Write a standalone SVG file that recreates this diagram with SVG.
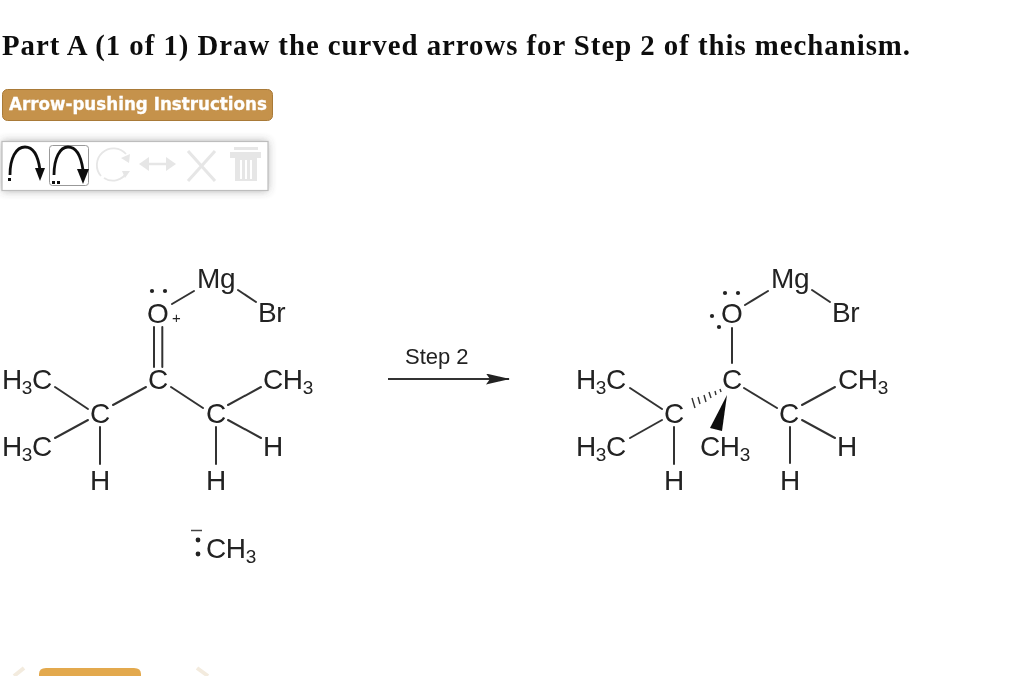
<svg xmlns="http://www.w3.org/2000/svg" width="1024" height="676" viewBox="0 0 1024 676">
<defs>
<filter id="sh" x="-10%" y="-40%" width="120%" height="180%"><feGaussianBlur stdDeviation="4"/></filter>
<filter id="soft" x="0" y="0" width="100%" height="100%" filterUnits="userSpaceOnUse" primitiveUnits="userSpaceOnUse"><feGaussianBlur stdDeviation="0.45"/></filter>
<marker id="ah" viewBox="0 0 24 11" refX="23" refY="5.500" markerWidth="24" markerHeight="11" markerUnits="userSpaceOnUse" orient="auto"><path d="M0 0L24 5.500L0 11L4 5.500Z" fill="#222"/></marker>
</defs>
<style>
text{font-family:"Liberation Sans",Arial,sans-serif;fill:#222}
.a{font-size:28px;letter-spacing:-.4px}
.s{font-size:19px}
.b{stroke:#333;stroke-width:2;fill:none;stroke-linecap:round}
.d{fill:#222}
.g{stroke:#e6e6e6;fill:none}
.k{stroke:#111;fill:none;stroke-width:2.800}
</style>
<rect width="1024" height="676" fill="#fff"/>
<g filter="url(#soft)">
<text x="2" y="55" style="font-family:'Liberation Serif','Times New Roman',serif;font-weight:700;font-size:28.800px;fill:#111" textLength="908" lengthAdjust="spacing">Part A (1 of 1) Draw the curved arrows for Step 2 of this mechanism.</text>

<g id="instructions-button">
<rect x="2.500" y="89.500" width="270" height="31" rx="5" fill="#c5924c" stroke="#a97a38"/>
<text x="9" y="110" style="font-family:'DejaVu Sans',sans-serif;font-weight:700;font-size:17px;fill:#fff;stroke:#fff;stroke-width:.3" textLength="258" lengthAdjust="spacingAndGlyphs">Arrow-pushing Instructions</text>
</g>

<g id="toolbar">
<rect x="2" y="141" width="266" height="50" fill="#555" opacity=".45" filter="url(#sh)"/>
<rect x="2" y="141.500" width="266" height="49" fill="#fff" stroke="#bdbdbd" stroke-width="1.200"/>
<g id="tool-single-arrow">
<path class="k" d="M10 175C10 158 16 147 25 147C33 147 38 155 40 170"/>
<path d="M35 168L45 168L40 181Z" fill="#111"/>
<rect x="8" y="178" width="3" height="3" fill="#111"/>
</g>
<g id="tool-double-arrow">
<rect x="49.500" y="145.500" width="39" height="40" rx="3" fill="#fff" stroke="#999" stroke-width="1"/>
<path class="k" d="M54 175C54 158 60 147 68 147C77 147 81 156 83 170"/>
<path d="M77 169L89 169L83 184Z" fill="#111"/>
<rect x="52" y="181" width="3" height="3" fill="#111"/><rect x="57" y="181" width="3" height="3" fill="#111"/>
</g>
<g id="tool-cycle">
<path class="g" stroke-width="1.800" d="M126 154A16 16 0 0 0 101 176"/>
<path class="g" stroke-width="1.800" d="M104 178A16 16 0 0 0 127 172"/>
<path d="M121 158L130 154L129 163Z M122 171L130 171L125 178Z" fill="#e6e6e6"/>
</g>
<g id="tool-resonance">
<path class="g" stroke-width="2.500" d="M145 164H170"/>
<path d="M139 164L149 157V171Z M176 164L166 157V171Z" fill="#e6e6e6"/>
</g>
<g id="tool-delete-x">
<path class="g" stroke-width="3" d="M188 151L215 181M215 151L188 181"/>
</g>
<g id="tool-trash">
<path d="M234 147H258V150H234ZM230 152H261V158H230ZM235 158H257V181H235Z" fill="#e6e6e6"/>
<path d="M241 160V179M246 160V179M251 160V179" stroke="#fff" stroke-width="2"/>
</g>
</g>

<g id="connectors">
<g id="reactant-bonds">
<line class="b" x1="172" y1="304" x2="194" y2="291"/>
<line class="b" x1="238" y1="290" x2="256" y2="302"/>
<line class="b" x1="154" y1="327" x2="154" y2="367"/>
<line class="b" x1="162.300" y1="327" x2="162.300" y2="367"/>
<line class="b" x1="55" y1="387" x2="88" y2="409"/>
<line class="b" x1="55" y1="438" x2="88" y2="420"/>
<line class="b" x1="100" y1="427" x2="100" y2="464"/>
<line class="b" x1="113" y1="405" x2="146" y2="387"/>
<line class="b" x1="171" y1="387" x2="203" y2="408"/>
<line class="b" x1="228" y1="405" x2="261" y2="387"/>
<line class="b" x1="228" y1="420" x2="261" y2="438"/>
<line class="b" x1="216" y1="427" x2="216" y2="464"/>
</g>
<g id="step-arrow">
<line x1="388" y1="379" x2="509" y2="379" stroke="#333" stroke-width="1.800" marker-end="url(#ah)"/>
</g>
<g id="product-bonds">
<line class="b" x1="745" y1="305" x2="768" y2="291"/>
<line class="b" x1="812" y1="290" x2="830" y2="302"/>
<line class="b" x1="732" y1="328" x2="732" y2="363"/>
<line class="b" x1="630" y1="388" x2="662" y2="409"/>
<line class="b" x1="630" y1="438" x2="662" y2="420"/>
<line class="b" x1="674" y1="427" x2="674" y2="464"/>
<line class="b" x1="744" y1="388" x2="777" y2="408"/>
<line class="b" x1="802" y1="405" x2="835" y2="387"/>
<line class="b" x1="802" y1="420" x2="835" y2="438"/>
<line class="b" x1="790" y1="427" x2="790" y2="463"/>
<path d="M727 395L710 428L722 431Z" fill="#111"/>
<g stroke="#333" stroke-width="1.400">
<line x1="692" y1="398" x2="695" y2="408"/>
<line x1="698" y1="397" x2="700" y2="404"/>
<line x1="704" y1="395" x2="706" y2="402"/>
<line x1="709" y1="392" x2="711" y2="398"/>
<line x1="715" y1="391" x2="716" y2="395"/>
<line x1="720" y1="389" x2="721" y2="392"/>
</g>
</g>
</g>

<g id="reactant-mg"><text class="a" x="197" y="288">Mg</text></g>
<g id="reactant-br"><text class="a" x="258" y="322">Br</text></g>
<g id="reactant-o">
<text class="a" x="147" y="323">O</text>
<circle class="d" cx="152" cy="291" r="2.100"/><circle class="d" cx="165" cy="291" r="2.100"/>
<text x="172" y="323" style="font-size:15px">+</text>
</g>
<g id="reactant-c2"><text class="a" x="148" y="389">C</text></g>
<g id="reactant-h3c-1"><text class="a" x="2" y="389">H<tspan class="s" dy="5">3</tspan><tspan dy="-5">C</tspan></text></g>
<g id="reactant-h3c-2"><text class="a" x="2" y="456">H<tspan class="s" dy="5">3</tspan><tspan dy="-5">C</tspan></text></g>
<g id="reactant-c1"><text class="a" x="90" y="423">C</text></g>
<g id="reactant-c3"><text class="a" x="206" y="423">C</text></g>
<g id="reactant-ch3"><text class="a" x="263" y="389">CH<tspan class="s" dy="5">3</tspan></text></g>
<g id="reactant-h1"><text class="a" x="90" y="490">H</text></g>
<g id="reactant-h2"><text class="a" x="206" y="490">H</text></g>
<g id="reactant-h3"><text class="a" x="263" y="456">H</text></g>
<g id="methyl-anion">
<line x1="191" y1="530.500" x2="202" y2="530.500" stroke="#444" stroke-width="1.500"/>
<circle class="d" cx="198" cy="540" r="2.400"/><circle class="d" cx="198" cy="554" r="2.400"/>
<text class="a" x="206" y="558">CH<tspan class="s" dy="5">3</tspan></text>
</g>

<g id="step-label"><text x="405" y="364" style="font-size:22px">Step 2</text></g>

<g id="product-mg"><text class="a" x="771" y="288">Mg</text></g>
<g id="product-br"><text class="a" x="832" y="322">Br</text></g>
<g id="product-o">
<text class="a" x="721" y="323">O</text>
<circle class="d" cx="725" cy="293" r="2.100"/><circle class="d" cx="738" cy="293" r="2.100"/>
<circle class="d" cx="712" cy="316" r="2.100"/><circle class="d" cx="719" cy="327" r="2.100"/>
</g>
<g id="product-c2"><text class="a" x="722" y="389">C</text></g>
<g id="product-h3c-1"><text class="a" x="576" y="389">H<tspan class="s" dy="5">3</tspan><tspan dy="-5">C</tspan></text></g>
<g id="product-h3c-2"><text class="a" x="576" y="456">H<tspan class="s" dy="5">3</tspan><tspan dy="-5">C</tspan></text></g>
<g id="product-c1"><text class="a" x="664" y="423">C</text></g>
<g id="product-c3"><text class="a" x="779" y="423">C</text></g>
<g id="product-ch3-top"><text class="a" x="838" y="389">CH<tspan class="s" dy="5">3</tspan></text></g>
<g id="product-ch3-wedge"><text class="a" x="700" y="456">CH<tspan class="s" dy="5">3</tspan></text></g>
<g id="product-h1"><text class="a" x="664" y="490">H</text></g>
<g id="product-h2"><text class="a" x="780" y="490">H</text></g>
<g id="product-h3"><text class="a" x="837" y="456">H</text></g>

<g id="cropped-bottom">
<path d="M39 676V674Q39 668 46 668H134Q141 668 141 674V676Z" fill="#e3a94e"/>
<path d="M14 676L24 668" stroke="#f3ebde" stroke-width="4" fill="none"/>
<path d="M197 668L208 676" stroke="#f3ebde" stroke-width="4" fill="none"/>
</g>
</g>
</svg>
